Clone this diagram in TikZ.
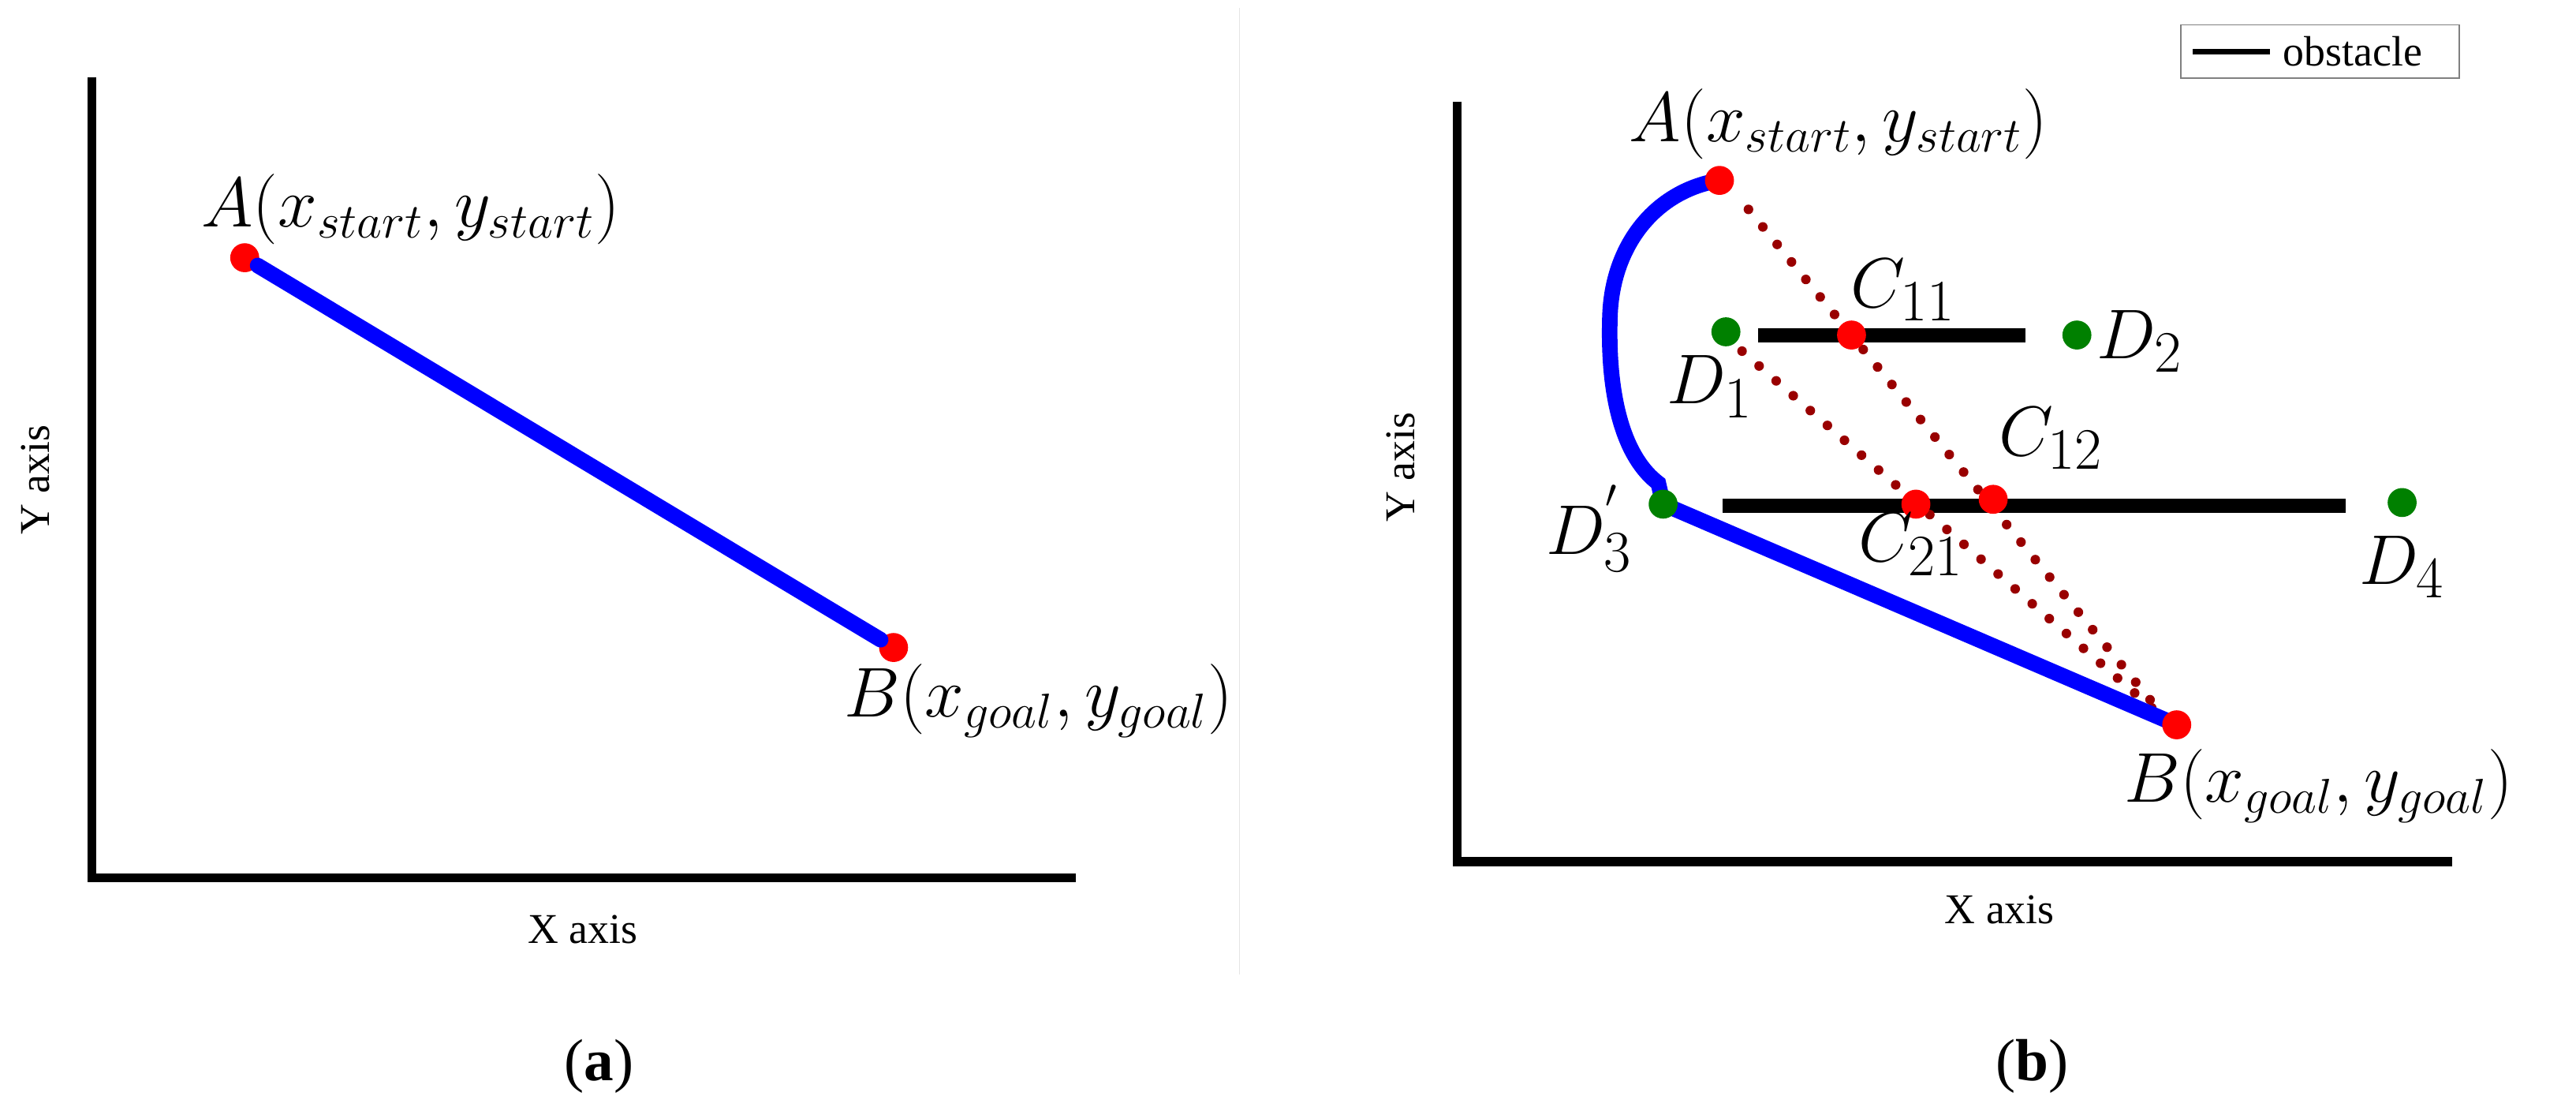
\documentclass[tikz,border=0pt]{standalone}
\usepackage{fontspec}
\setmainfont{Liberation Serif}
\begin{document}
\begin{tikzpicture}[x=0.02cm,y=-0.02cm,
 ax/.style={line width=3.2pt},
 blue path/.style={blue,line width=5.5pt,line cap=round},
 rdot/.style={circle,fill=red,inner sep=0pt,minimum size=0.36cm},
 gdot/.style={circle,fill=green!50!black,inner sep=0pt,minimum size=0.36cm},
 obst/.style={line width=5pt},
 dots/.style={red!60!black,line width=3.4pt,line cap=round,dash pattern=on 0pt off 8pt},
 lbl/.style={font=\fontsize{23}{25}\selectfont},
 big/.style={font=\fontsize{29}{31}\selectfont},
 axl/.style={font=\fontsize{15}{17}\selectfont}]
\useasboundingbox (0,0) rectangle (1600,680);
% panel a
\draw[ax] (57,48) -- (57,545) -- (668,545);
\node[axl,rotate=90] (ya) at (22,298) {Y axis};
\node[axl] (xa) at (362,577) {X axis};
\node[font=\fontsize{21}{23}\selectfont] (la) at (372,662) {(\textbf{a})};
\node[rdot] (A) at (152,160) {};
\node[rdot] (B) at (555,402) {};
\draw[blue path] (A) -- (B);
\node[lbl] (Al) at (255,130) {$A(x_{start},y_{start})$};
\node[lbl] (Bl) at (645,435) {$B(x_{goal},y_{goal})$};
\draw[black!10] (770,5) -- (770,605);
% panel b
\draw[ax] (905,63) -- (905,535) -- (1523,535);
\node[axl,rotate=90] (yb) at (870,290) {Y axis};
\node[axl] (xb) at (1242,565) {X axis};
\node[font=\fontsize{21}{23}\selectfont] (lb) at (1262,662) {(\textbf{b})};
\node[draw=black!50,minimum width=3.46cm,minimum height=0.66cm] (leg) at (1441,32) {};
\draw[line width=1.8pt] (1362,32) -- (1410,32);
\node[font=\fontsize{15}{17}\selectfont,anchor=west,inner sep=1pt] (obl) at (1416,32) {obstacle};
\draw[obst] (1092,208) -- (1258,208);
\draw[obst] (1070,314) -- (1457,314);
\coordinate (A2) at (1068,112);
\coordinate (B2) at (1352,450);
\coordinate (D3c) at (1033,313);
\draw[dots] (1086,130) -- (1340,440);
\draw[dots] (1082,218) -- (1344,446);
\draw[blue path] (A2) .. controls (1030,118) and (1002,150) .. (1000,195) .. controls (998,250) and (1010,285) .. (1030,300) -- (D3c) -- (B2);
\node[rdot] (A2d) at (A2) {};
\node[rdot] (B2d) at (B2) {};
\node[gdot] (D1) at (1072,206) {};
\node[gdot] (D2) at (1290,208) {};
\node[gdot] (D3) at (D3c) {};
\node[gdot] (D4) at (1492,312) {};
\node[rdot] (C11) at (1150,208) {};
\node[rdot] (C12) at (1238,310) {};
\node[rdot] (C21) at (1190,313) {};
\node[lbl] (A2l) at (1142,77) {$A(x_{start},y_{start})$};
\node[lbl] (B2l) at (1440,488) {$B(x_{goal},y_{goal})$};
\node[big] (C11l) at (1182,180) {$C_{11}$};
\node[big] (C12l) at (1274,272) {$C_{12}$};
\node[big] (C21l) at (1187,338) {$C_{21}$};
\node[big] (D1l) at (1062,240) {$D_1$};
\node[big] (D2l) at (1329,212) {$D_2$};
\node[big] (D3l) at (987,328) {$D_3^{'}$};
\node[big] (D4l) at (1492,352) {$D_4$};
\end{tikzpicture}
\end{document}
